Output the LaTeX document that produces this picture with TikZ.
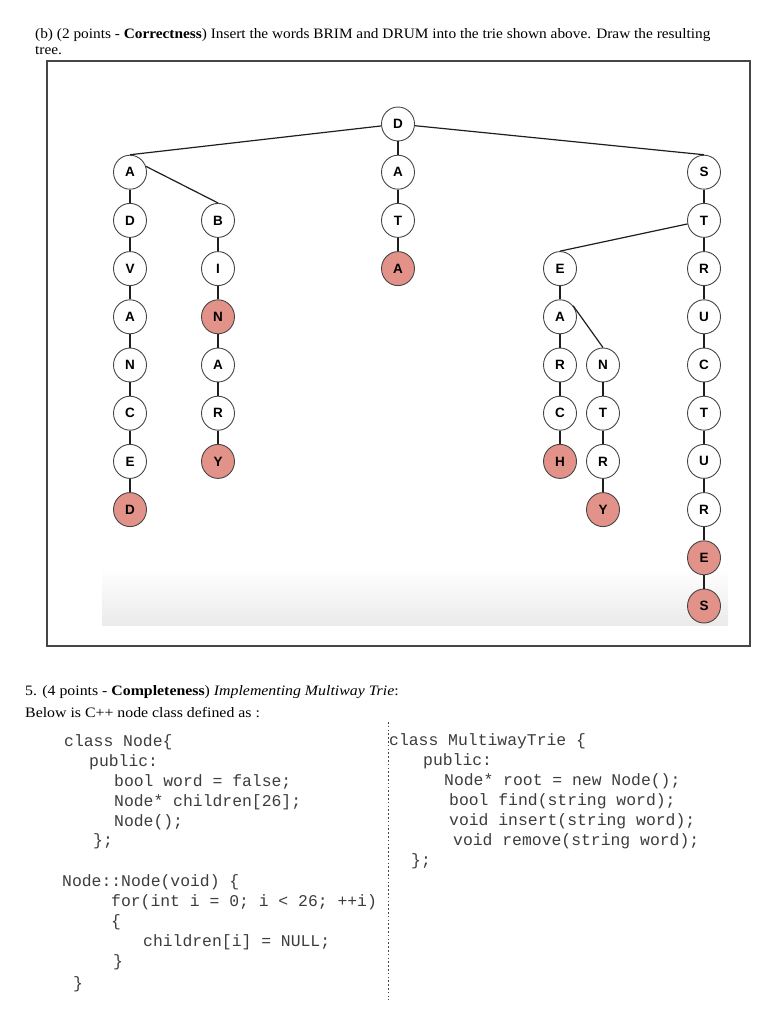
\documentclass[tikz,border=0pt]{standalone}
\usepackage{fontspec}
\usetikzlibrary{shapes.geometric}
\newfontfamily\hdfont[FakeStretch=1.065]{Liberation Serif}
\newfontfamily\sfont[FakeStretch=1.1]{Liberation Serif}
\newfontfamily\nodefont{Liberation Sans}
\newfontfamily\codefont{Liberation Mono}
\definecolor{leaf}{RGB}{226,146,136}
\definecolor{edgecol}{RGB}{30,30,30}
\definecolor{ringcol}{RGB}{70,70,70}
\definecolor{codecol}{RGB}{60,60,60}
\tikzset{
  tn/.style={ellipse, draw=ringcol, line width=0.9pt, fill=white, minimum width=33pt, minimum height=34pt, inner sep=0pt, font=\nodefont\bfseries\fontsize{13.5}{15}\selectfont},
  lf/.style={tn, fill=leaf},
  link/.style={draw=edgecol, line width=1.2pt},
  hd/.style={anchor=base west, inner sep=0pt, font=\hdfont\fontsize{14.4}{16}\selectfont},
  sd/.style={anchor=base west, inner sep=0pt, font=\sfont\fontsize{14.4}{16}\selectfont},
  cd/.style={anchor=base west, inner sep=0pt, text=codecol, font=\codefont\fontsize{16.4}{20}\selectfont},
}
\begin{document}
\begin{tikzpicture}[x=1pt,y=-1pt]
\useasboundingbox (0,0) rectangle (772,1024);
% header
\node[hd] (h1) at (35,39) {(b) (2 points - \textbf{Correctness}) Insert the words BRIM and DRUM into the trie shown above. Draw the resulting};
\node[hd] (h2) at (35,55) {tree.};
% box
\draw[line width=1.2pt, draw=ringcol] (47,61) rectangle (750,646);
\shade[top color=white, bottom color=black!8] (102,568) rectangle (728,625);
% tree nodes
\def\ly#1{124+48.2*#1}
\node[tn] (R0) at (398,{\ly0}) {D};
\node[tn] (A1) at (130,{\ly1}) {A};
\node[tn] (D2) at (130,{\ly2}) {D};
\node[tn] (V3) at (130,{\ly3}) {V};
\node[tn] (A4) at (130,{\ly4}) {A};
\node[tn] (N5) at (130,{\ly5}) {N};
\node[tn] (C6) at (130,{\ly6}) {C};
\node[tn] (E7) at (130,{\ly7}) {E};
\node[lf] (D8) at (130,{\ly8}) {D};
\node[tn] (B2) at (218,{\ly2}) {B};
\node[tn] (I3) at (218,{\ly3}) {I};
\node[lf] (N4) at (218,{\ly4}) {N};
\node[tn] (A5) at (218,{\ly5}) {A};
\node[tn] (R6) at (218,{\ly6}) {R};
\node[lf] (Y7) at (218,{\ly7}) {Y};
\node[tn] (mA1) at (398,{\ly1}) {A};
\node[tn] (mT2) at (398,{\ly2}) {T};
\node[lf] (mA3) at (398,{\ly3}) {A};
\node[tn] (S1) at (704,{\ly1}) {S};
\node[tn] (T2) at (704,{\ly2}) {T};
\node[tn] (R3) at (704,{\ly3}) {R};
\node[tn] (U4) at (704,{\ly4}) {U};
\node[tn] (C5) at (704,{\ly5}) {C};
\node[tn] (T6) at (704,{\ly6}) {T};
\node[tn] (U7) at (704,{\ly7}) {U};
\node[tn] (R8) at (704,{\ly8}) {R};
\node[lf] (E9) at (704,{\ly9}) {E};
\node[lf] (S10) at (704,{\ly{10}}) {S};
\node[tn] (eE3) at (560,{\ly3}) {E};
\node[tn] (eA4) at (560,{\ly4}) {A};
\node[tn] (eR5) at (560,{\ly5}) {R};
\node[tn] (eC6) at (560,{\ly6}) {C};
\node[lf] (eH7) at (560,{\ly7}) {H};
\node[tn] (nN5) at (603,{\ly5}) {N};
\node[tn] (nT6) at (603,{\ly6}) {T};
\node[tn] (nR7) at (603,{\ly7}) {R};
\node[lf] (nY8) at (603,{\ly8}) {Y};
% edges
\draw[link] (R0) -- (A1.north);
\draw[link] (R0) -- (S1.north);
\draw[link] (R0) -- (mA1);
\draw[link] (mA1) -- (mT2);
\draw[link] (mT2) -- (mA3);
\draw[link] (A1.20) -- (B2.north);
\draw[link] (A1) -- (D2);
\draw[link] (D2) -- (V3);
\draw[link] (V3) -- (A4);
\draw[link] (A4) -- (N5);
\draw[link] (N5) -- (C6);
\draw[link] (C6) -- (E7);
\draw[link] (E7) -- (D8);
\draw[link] (B2) -- (I3);
\draw[link] (I3) -- (N4);
\draw[link] (N4) -- (A5);
\draw[link] (A5) -- (R6);
\draw[link] (R6) -- (Y7);
\draw[link] (S1) -- (T2);
\draw[link] (T2) -- (R3);
\draw[link] (R3) -- (U4);
\draw[link] (U4) -- (C5);
\draw[link] (C5) -- (T6);
\draw[link] (T6) -- (U7);
\draw[link] (U7) -- (R8);
\draw[link] (R8) -- (E9);
\draw[link] (E9) -- (S10);
\draw[link] (T2) -- (eE3.north);
\draw[link] (eE3) -- (eA4);
\draw[link] (eA4) -- (eR5);
\draw[link] (eR5) -- (eC6);
\draw[link] (eC6) -- (eH7);
\draw[link] (eA4.40) -- (nN5.north);
\draw[link] (nN5) -- (nT6);
\draw[link] (nT6) -- (nR7);
\draw[link] (nR7) -- (nY8);
% section 5
\node[sd] (s1) at (25,695) {5. (4 points - \textbf{Completeness}) \textit{Implementing Multiway Trie}:};
\node[sd] (s2) at (25,717) {Below is C++ node class defined as :};
% divider
\coordinate (dv1) at (388,722);
\coordinate (dv2) at (388,1000);
\draw[draw=ringcol, line width=0.9pt, dash pattern=on 1.6pt off 2.2pt] (dv1) -- (dv2);
% code left
\node[cd] (c1) at (64,746) {class Node\{};
\node[cd] (c2) at (89,766) {public:};
\node[cd] (c3) at (114,786) {bool word = false;};
\node[cd] (c4) at (114,806) {Node* children[26];};
\node[cd] (c5) at (114,826) {Node();};
\node[cd] (c6) at (93,845) {\};};
\node[cd] (c7) at (62,886) {Node::Node(void) \{};
\node[cd] (c8) at (111,906) {for(int i = 0; i < 26; ++i)};
\node[cd] (c9) at (111,926) {\{};
\node[cd] (c10) at (143,946) {children[i] = NULL;};
\node[cd] (c11) at (113,966) {\}};
\node[cd] (c12) at (73,988) {\}};
% code right
\node[cd] (r1) at (389,745) {class MultiwayTrie \{};
\node[cd] (r2) at (423,765) {public:};
\node[cd] (r3) at (444,785) {Node* root = new Node();};
\node[cd] (r4) at (449,805) {bool find(string word);};
\node[cd] (r5) at (449,825) {void insert(string word);};
\node[cd] (r6) at (453,845) {void remove(string word);};
\node[cd] (r7) at (411,865) {\};};
\end{tikzpicture}
\end{document}
